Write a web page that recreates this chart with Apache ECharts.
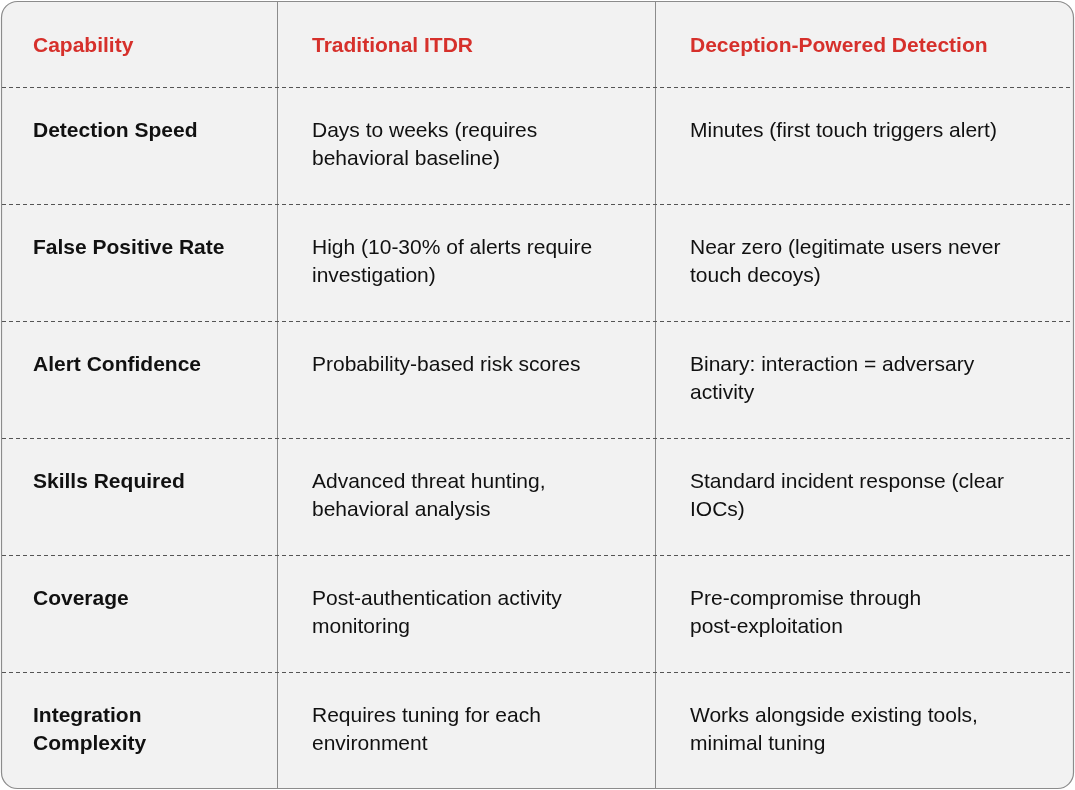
<!DOCTYPE html>
<html><head><meta charset="utf-8">
<script src="https://cdn.jsdelivr.net/npm/echarts@6/dist/echarts.min.js"></script>
<style>html,body{margin:0;padding:0;background:#fff}#c{width:1075px;height:790px}</style>
</head><body><div id="c"></div>
<script>
const headers = ["Capability", "Traditional ITDR", "Deception-Powered Detection"];
const capabilities = ["Detection Speed", "False Positive Rate", "Alert Confidence", "Skills Required", "Coverage", "Integration\nComplexity"];
const traditional = ["Days to weeks (requires\nbehavioral baseline)", "High (10-30% of alerts require\ninvestigation)", "Probability-based risk scores", "Advanced threat hunting,\nbehavioral analysis", "Post-authentication activity\nmonitoring", "Requires tuning for each\nenvironment"];
const deception = ["Minutes (first touch triggers alert)", "Near zero (legitimate users never\ntouch decoys)", "Binary: interaction = adversary\nactivity", "Standard incident response (clear\nIOCs)", "Pre-compromise through\npost-exploitation", "Works alongside existing tools,\nminimal tuning"];

const W = 1075, H = 790, headH = 87, rowH = 117;
const colX = [0, 277, 655], textX = [33, 312, 690];
const fam = 'Liberation Sans';
const g = [];
g.push({type:'rect', shape:{x:1.5,y:1.5,width:W-3,height:H-3,r:16}, style:{fill:'#f2f2f2',stroke:'#8c8c8c',lineWidth:1.2}});
[1,2].forEach(i=>g.push({type:'line', shape:{x1:colX[i]+0.5,y1:2,x2:colX[i]+0.5,y2:H-2}, style:{stroke:'#8c8c8c',lineWidth:1}}));
for (let r=0;r<capabilities.length;r++){
  const y = headH + r*rowH + 0.5;
  g.push({type:'line', shape:{x1:2,y1:y,x2:W-2,y2:y}, style:{stroke:'#555',lineWidth:1,lineDash:[4,3]}});
}
headers.forEach((h,i)=>g.push({type:'text', x:textX[i], y:46, style:{text:h, fill:'#d6302b', fontFamily:fam, fontSize:21, fontWeight:'bold', verticalAlign:'middle'}}));
const cols = [capabilities, traditional, deception];
cols.forEach((arr,ci)=>arr.forEach((t,r)=>{
  g.push({type:'text', x:textX[ci], y:headH + r*rowH + 30, style:{text:t, fill:'#111', fontFamily:fam, fontSize:21, fontWeight:ci===0?'bold':'normal', lineHeight:28, verticalAlign:'top'}});
}));
const chart = echarts.init(document.getElementById('c'));
chart.setOption({animation:false, graphic:g});
</script></body></html>
